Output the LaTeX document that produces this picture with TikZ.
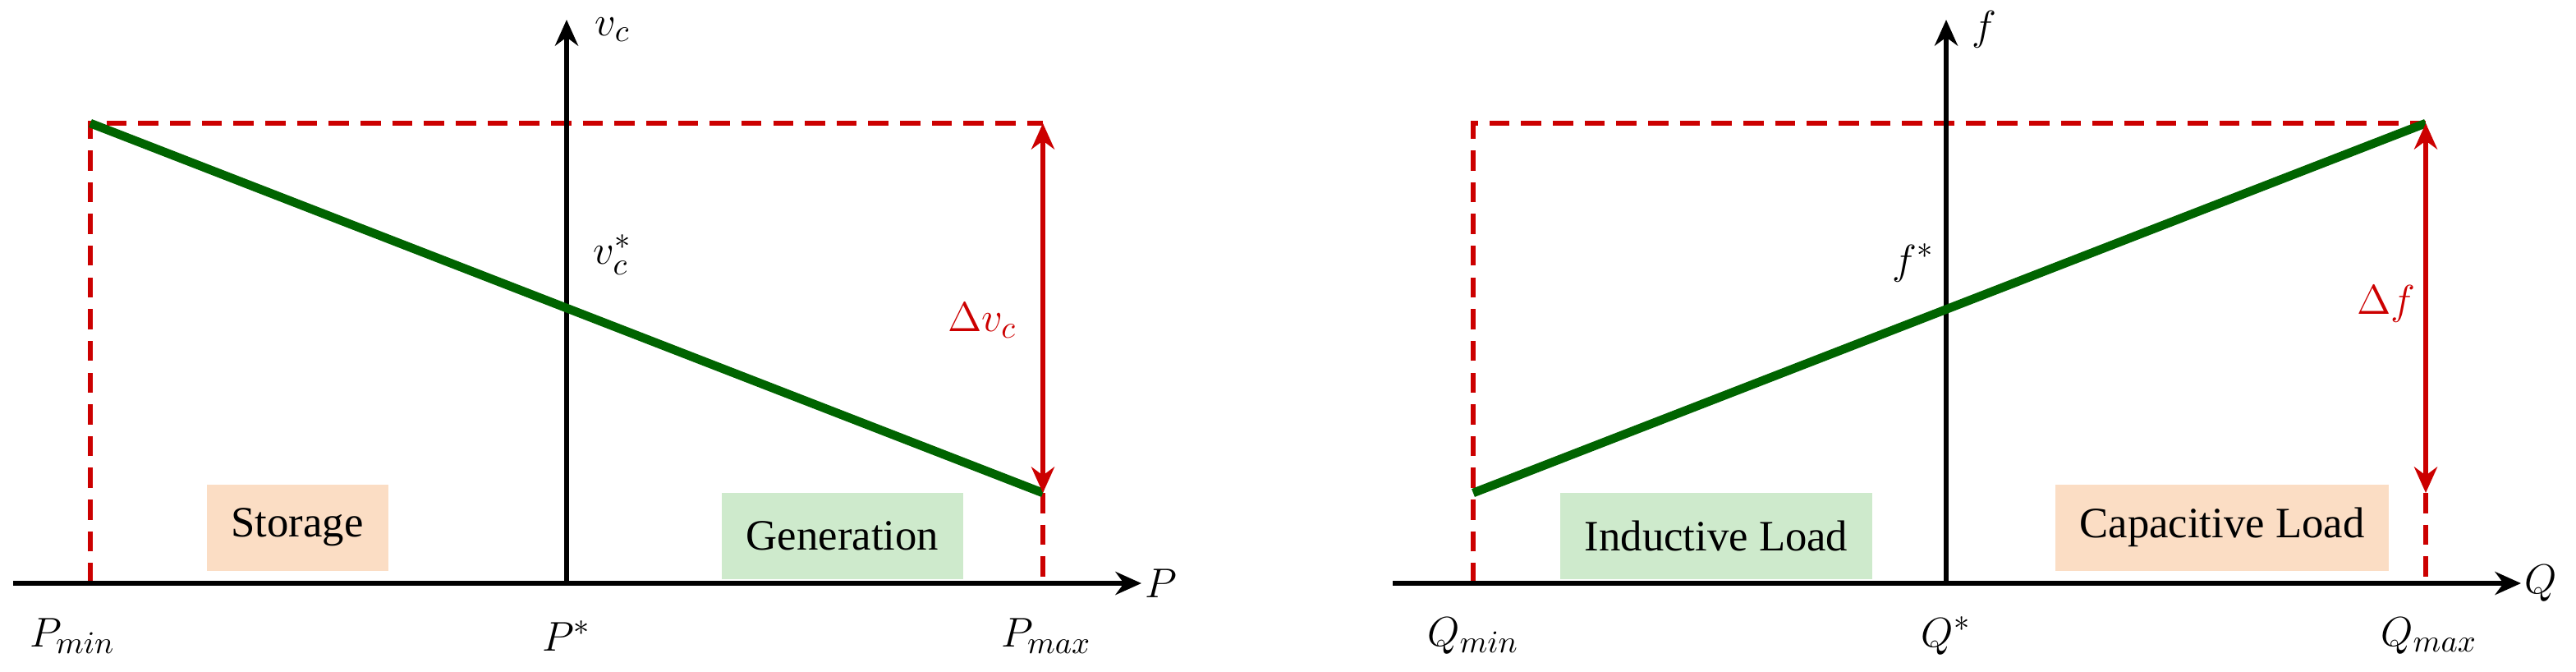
\documentclass[tikz,border=0pt]{standalone}
\usepackage{fontspec}
\setmainfont{Liberation Serif}
\usetikzlibrary{arrows.meta}
\definecolor{dred}{RGB}{204,0,0}
\definecolor{dgreen}{RGB}{0,100,0}
\definecolor{peach}{RGB}{251,221,196}
\definecolor{lgreen}{RGB}{206,234,204}
\begin{document}
\begin{tikzpicture}[x=0.02cm,y=-0.02cm,
  axis/.style={line width=1.8pt,-{Stealth[length=9pt,width=8pt]}},
  reddash/.style={dred,line width=1.8pt,dash pattern=on 7pt off 4pt},
  droop/.style={dgreen,line width=3pt},
  span/.style={dred,line width=1.8pt,{Stealth[length=9pt,width=8pt]}-{Stealth[length=9pt,width=8pt]}},
  lbl/.style={font=\fontsize{15}{17}\selectfont},
  region/.style={font=\fontsize{15}{17}\selectfont,minimum height=1.05cm,inner xsep=0.3cm}]
\useasboundingbox (0,0) rectangle (1568.5,408.5);
% left panel
\coordinate (lx0) at (8,355); \coordinate (lx1) at (695,355);
\coordinate (ly0) at (345,355); \coordinate (ly1) at (345,12);
\coordinate (lA) at (55,75); \coordinate (lB) at (635,75);
\coordinate (lC) at (635,300); \coordinate (lD) at (55,355); \coordinate (lE) at (635,355);
\node[region,fill=peach] (sto) at (181,321) {Storage};
\node[region,fill=lgreen] (gen) at (513,326) {Generation};
\draw[reddash] (lD) -- (lA) -- (lB);
\draw[reddash] (lC) -- (lE);
\draw[axis] (lx0) -- (lx1);
\draw[axis] (ly0) -- (ly1);
\draw[droop] (lA) -- (lC);
\draw[span] (lB) -- (lC);
\node[lbl] (P) at (707,355) {$P$};
\node[lbl] (vc) at (373,18) {$v_c$};
\node[lbl] (vcs) at (373,155) {$v_c^*$};
\node[lbl,text=dred] (dvc) at (598,195) {$\Delta v_c$};
\node[lbl] (pmin) at (44,387) {$P_{min}$};
\node[lbl] (ps) at (345,387) {$P^*$};
\node[lbl] (pmax) at (637,387) {$P_{max}$};
% right panel
\coordinate (rx0) at (848,355); \coordinate (rx1) at (1535,355);
\coordinate (ry0) at (1185,355); \coordinate (ry1) at (1185,12);
\coordinate (rA) at (897,75); \coordinate (rB) at (1477,75);
\coordinate (rC) at (1477,300); \coordinate (rD) at (897,355); \coordinate (rE) at (1477,355);
\coordinate (rF) at (897,300);
\node[region,fill=lgreen] (ind) at (1045,326) {Inductive Load};
\node[region,fill=peach] (cap) at (1353,321) {Capacitive Load};
\draw[reddash] (rD) -- (rA) -- (rB);
\draw[reddash] (rC) -- (rE);
\draw[axis] (rx0) -- (rx1);
\draw[axis] (ry0) -- (ry1);
\draw[droop] (rF) -- (rB);
\draw[span] (rB) -- (rC);
\node[lbl] (Q) at (1547,355) {$Q$};
\node[lbl] (f) at (1208,18) {$f$};
\node[lbl] (fs) at (1165,160) {$f^*$};
\node[lbl,text=dred] (df) at (1453,185) {$\Delta f$};
\node[lbl] (qmin) at (897,387) {$Q_{min}$};
\node[lbl] (qs) at (1185,387) {$Q^*$};
\node[lbl] (qmax) at (1479,387) {$Q_{max}$};
\end{tikzpicture}
\end{document}
